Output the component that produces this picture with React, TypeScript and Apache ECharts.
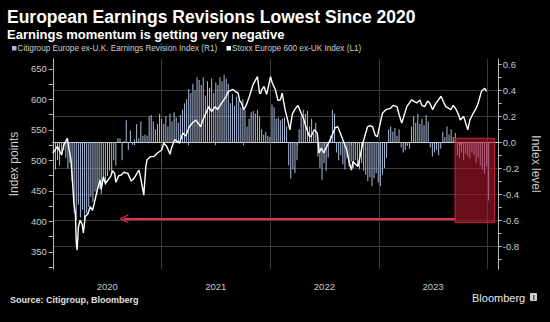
import React, { useEffect, useRef } from "react";
import * as echarts from "echarts";

// ---------- data ----------
const titleText = "European Earnings Revisions Lowest Since 2020";
const subtitleText = "Earnings momentum is getting very negative";
const revisionName = "Citigroup Europe ex-U.K. Earnings Revision Index (R1)";
const stoxxName = "Stoxx Europe 600 ex-UK Index (L1)";
const sourceText = "Source: Citigroup, Bloomberg";

const yearLabels = ["2020", "2021", "2022", "2023"];
const leftTickLabels = [350, 400, 450, 500, 550, 600, 650];
const leftMinorTicks = [325, 350, 375, 400, 425, 450, 475, 500, 525, 550, 575, 600, 625, 650];
const rightTickLabels = [-0.8, -0.6, -0.4, -0.2, 0, 0.2, 0.4, 0.6];
const rightMinorTicks = [-0.9, -0.8, -0.7, -0.6, -0.5, -0.4, -0.3, -0.2, -0.1, 0, 0.1, 0.2, 0.3, 0.4, 0.5, 0.6];
const rightGridValues = [-0.8, -0.6, -0.4, -0.2, 0, 0.2, 0.4];

// Stoxx Europe 600 ex-UK (left axis)
const stoxxDates = [
  "2020-01-01","2020-01-10","2020-01-17","2020-01-24","2020-01-31","2020-02-07","2020-02-19","2020-02-24",
  "2020-03-02","2020-03-07","2020-03-12","2020-03-17","2020-03-20","2020-03-23","2020-03-27","2020-04-02",
  "2020-04-09","2020-04-13","2020-04-19","2020-04-28","2020-05-06","2020-05-14","2020-05-22","2020-05-29",
  "2020-06-08","2020-06-12","2020-06-19","2020-06-26","2020-07-05","2020-07-14","2020-07-20","2020-07-27",
  "2020-07-31","2020-08-10","2020-08-18","2020-08-28","2020-09-02","2020-09-09","2020-09-21","2020-10-01",
  "2020-10-09","2020-10-17","2020-10-23","2020-11-02","2020-11-09","2020-11-13","2020-11-24","2020-12-05",
  "2020-12-18","2021-01-01","2021-01-08","2021-01-18","2021-01-29","2021-02-03","2021-02-14","2021-03-02",
  "2021-03-13","2021-03-23","2021-04-04","2021-04-16","2021-04-26","2021-05-12","2021-05-18","2021-06-08",
  "2021-06-18","2021-06-30","2021-07-08","2021-07-22","2021-08-05","2021-08-13","2021-08-29","2021-09-08",
  "2021-09-15","2021-09-20","2021-09-26","2021-10-04","2021-10-12","2021-10-23","2021-11-05","2021-11-19",
  "2021-11-26","2021-11-30","2021-12-03","2021-12-11","2021-12-20","2022-01-02","2022-01-07","2022-01-18",
  "2022-01-27","2022-02-04","2022-02-10","2022-02-20","2022-03-01","2022-03-08","2022-03-16","2022-03-24",
  "2022-04-04","2022-04-15","2022-04-22","2022-05-01","2022-05-12","2022-05-18","2022-05-29","2022-06-08",
  "2022-06-14","2022-06-22","2022-06-30","2022-07-07","2022-07-22","2022-08-07","2022-08-16","2022-08-24",
  "2022-09-05","2022-09-15","2022-09-22","2022-10-01","2022-10-06","2022-10-12","2022-10-23","2022-11-08",
  "2022-11-24","2022-12-02","2022-12-11","2022-12-20","2022-12-27","2023-01-13","2023-01-25","2023-02-09",
  "2023-02-18","2023-03-03","2023-03-10","2023-03-19","2023-04-05","2023-04-21","2023-05-08","2023-05-19",
  "2023-05-26","2023-06-04","2023-06-14","2023-06-21","2023-07-01","2023-07-10","2023-07-29","2023-08-07",
  "2023-08-14","2023-08-31","2023-09-08","2023-09-16","2023-09-25","2023-10-02","2023-10-13","2023-10-27",
  "2023-11-03","2023-11-14","2023-11-24","2023-12-01","2023-12-12","2023-12-23","2023-12-29"
];
const stoxxValues = [
  512, 518, 523, 515, 509, 525, 536, 520,
  501, 468, 430, 414, 365, 353, 390, 402,
  395, 381, 408, 412, 424, 418, 435, 450,
  468, 452, 473, 462, 468, 474, 483, 479,
  464, 475, 476, 481, 479, 479, 466, 471,
  478, 484, 470, 443, 490, 501, 506, 506,
  512, 517, 528, 523, 510, 520, 534, 528,
  545, 540, 555, 562, 566, 555, 564, 588,
  580, 588, 583, 594, 604, 613, 616, 612,
  610, 598, 594, 583, 590, 605, 625, 637,
  610, 610, 615, 621, 608, 637, 628, 616,
  598, 599, 610, 583, 565, 550, 575, 583,
  590, 577, 570, 555, 540, 539, 550, 545,
  512, 520, 512, 520, 534, 553, 555, 545,
  530, 517, 500, 484, 498, 495, 490, 528,
  555, 557, 555, 541, 539, 577, 583, 585,
  590, 588, 575, 561, 588, 599, 594, 599,
  590, 588, 597, 594, 583, 592, 605, 595,
  588, 583, 590, 585, 576, 566, 572, 550,
  566, 577, 585, 594, 613, 618, 613
];

// Citigroup Europe ex-UK earnings revision index (right axis), weekly from 2020-01-03
const revisionStart = "2020-01-03";
const revisions2020 = [
  -0.08, -0.21, -0.14, -0.18, -0.10, -0.06, -0.12, -0.20, -0.16, -0.30, -0.55, -0.60, -0.48,
  -0.58, -0.52, -0.60, -0.55, -0.50, -0.42, -0.46, -0.38, -0.40, -0.36, -0.40, -0.30, -0.33,
  -0.26, -0.22, -0.24, -0.14, -0.18, 0.03, 0.03, -0.14, 0.01, 0.17, -0.06, 0.09, -0.02,
  0.02, 0.14, 0.03, 0.16, 0.05, 0.06, 0.05, 0.20, 0.21, 0.16, 0.10, 0.14, 0.22
];
const revisions2021 = [
  0.18, 0.14, 0.20, 0.12, 0.22, 0.16, 0.23, 0.19, 0.15, 0.21, 0.25, 0.30, 0.33,
  0.41, 0.38, 0.45, 0.40, 0.50, 0.48, 0.44, 0.50, 0.36, 0.47, 0.42, 0.49, 0.38,
  0.46, 0.44, 0.50, 0.47, 0.52, 0.49, 0.45, 0.30, 0.37, 0.28, 0.35, 0.32, 0.27,
  0.33, 0.25, 0.12, 0.18, 0.23, 0.24, 0.22, 0.25, 0.20, 0.10, 0.06, 0.08, 0.05, 0.04
];
const revisions2022 = [
  0.29, 0.27, 0.18, 0.19, 0.17, 0.18, 0.19, 0.12,
  -0.18, -0.28, -0.21, -0.24, -0.14,
  0.10, 0.20, 0.25, 0.22, 0.24, 0.12, 0.18, 0.07, 0.15,
  -0.11, -0.20, -0.29, -0.16, -0.22, -0.12, 0.05, 0.25,
  0.22, -0.08, -0.14, -0.10, -0.17, -0.21, -0.12, -0.19, -0.15,
  -0.20, -0.14, -0.18, -0.21, -0.16, -0.22, -0.25, -0.30,
  -0.27, -0.34, -0.28, -0.24, -0.31
];
const revisions2023 = [
  -0.34, -0.25, -0.20, -0.12,
  0.10, 0.12, 0.08, 0.11, 0.05, 0.10,
  -0.04, -0.08, -0.06, -0.03, -0.05,
  0.12, 0.20, 0.15, 0.22, 0.14, 0.18, 0.13, 0.21, 0.16,
  -0.04, -0.11, -0.08, -0.06, -0.10, -0.05,
  0.08, 0.04, 0.12, 0.06, 0.10, 0.04, 0.07,
  -0.10, -0.12, -0.08, -0.14, -0.09, -0.11, -0.13, -0.08, -0.10, -0.16, -0.12, -0.18, -0.21, -0.24, -0.19
];
const revisions2024 = [-0.45];

// highlight box and arrow
const boxStart = "2023-09-14";
const boxEnd = "2024-01-25";
const boxTop = 0.03;
const boxBottom = -0.62;
const arrowFrom = "2023-09-14";
const arrowTo = "2020-08-27";
const arrowLevel = -0.59;

const axisStart = "2020-01-01";
const axisEnd = "2024-02-08";
const yearStarts = ["2021-01-01", "2022-01-01", "2023-01-01", "2024-01-01"];
const quarterStarts = [
  "2020-04-01","2020-07-01","2020-10-01","2021-04-01","2021-07-01","2021-10-01",
  "2022-04-01","2022-07-01","2022-10-01","2023-04-01","2023-07-01","2023-10-01"
];
const yearMiddles = ["2020-07-02", "2021-07-02", "2022-07-02", "2023-07-02"];

const ts = (s: string) => new Date(s + "T00:00:00").getTime();

export default function App() {
  const ref = useRef<HTMLDivElement>(null);
  useEffect(() => {
    document.body.style.background = "#000";
    const chart = echarts.init(ref.current!, null, { renderer: "svg" });
    const revisions = [...revisions2020, ...revisions2021, ...revisions2022, ...revisions2023, ...revisions2024];
    const start = ts(revisionStart);
    const barData = revisions.map((v, i) => [start + i * 7 * 86400000, v]);
    const lineData = stoxxDates.map((d, i) => [ts(d), stoxxValues[i]]);
    const font = "Liberation Sans";
    const labelColor = "#c9c9c9";
    const gridColor = "#3a3a3a";
    const yearOf = (v: number) => {
      const y = new Date(v).getFullYear();
      return yearLabels[y - 2020] ?? String(y);
    };

    chart.setOption({
      animation: false,
      backgroundColor: "#000",
      textStyle: { fontFamily: font },
      title: [
        {
          left: 7,
          top: 8,
          padding: 0,
          text: titleText,
          textStyle: { color: "#fff", fontSize: 17.5, fontWeight: "bold", fontFamily: font, lineHeight: 18 },
        },
        {
          left: 7,
          top: 28,
          padding: 0,
          text: subtitleText,
          textStyle: { color: "#fff", fontSize: 13, fontWeight: "bold", fontFamily: font, lineHeight: 13 },
        },
      ],
      grid: { left: 43, right: 49, top: 59, bottom: 53 },
      xAxis: [
        {
          type: "value",
          position: "bottom",
          min: ts(axisStart),
          max: ts(axisEnd),
          axisLine: { show: true, lineStyle: { color: "#cfcfcf", width: 1 } },
          axisTick: { show: true, customValues: quarterStarts.map(ts), length: 3, lineStyle: { color: "#aaa" } },
          axisLabel: { show: false },
          splitLine: { show: false },
        },
        {
          type: "value",
          position: "bottom",
          min: ts(axisStart),
          max: ts(axisEnd),
          axisLine: { show: false },
          axisTick: { show: true, customValues: yearStarts.map(ts), length: 22, lineStyle: { color: "#555" } },
          axisLabel: {
            show: true,
            customValues: yearMiddles.map(ts),
            formatter: (v: number) => yearOf(v),
            color: labelColor,
            fontSize: 9.5,
            margin: 12,
            fontFamily: font,
          },
          splitLine: { show: true, lineStyle: { color: gridColor, width: 1 } },
        },
      ],
      yAxis: [
        {
          type: "value",
          position: "left",
          min: 322,
          max: 666,
          name: "Index points",
          nameLocation: "middle",
          nameGap: 25,
          nameTextStyle: { color: labelColor, fontSize: 12, fontFamily: font },
          axisLine: { show: true, lineStyle: { color: "#bbb" } },
          axisTick: { show: true, customValues: leftMinorTicks, length: 4, lineStyle: { color: "#bbb" } },
          axisLabel: { customValues: leftTickLabels, color: labelColor, fontSize: 9.5, margin: 6, fontFamily: font },
          splitLine: { show: false },
        },
        {
          type: "value",
          position: "right",
          min: -0.977,
          max: 0.641,
          name: "Index level",
          nameLocation: "middle",
          nameGap: 22,
          nameRotate: -90,
          nameTextStyle: { color: labelColor, fontSize: 12, fontFamily: font },
          axisLine: { show: true, lineStyle: { color: "#bbb" } },
          axisTick: { show: true, customValues: rightMinorTicks, length: 3, lineStyle: { color: "#bbb" } },
          axisLabel: {
            customValues: rightTickLabels,
            formatter: (v: number) => v.toFixed(1),
            color: labelColor,
            fontSize: 9.5,
            margin: 4,
            fontFamily: font,
          },
          splitLine: { show: false },
        },
        {
          type: "value",
          position: "right",
          min: -0.977,
          max: 0.641,
          axisLine: { show: false },
          axisTick: { show: false, customValues: rightGridValues },
          axisLabel: { show: false },
          splitLine: { show: true, lineStyle: { color: gridColor, width: 1 } },
        },
      ],
      series: [
        {
          name: revisionName,
          type: "bar",
          xAxisIndex: 0,
          yAxisIndex: 1,
          data: barData,
          barWidth: 1,
          itemStyle: { color: "#a9b9da" },
          z: 1,
          markArea: {
            silent: true,
            z: 2,
            itemStyle: { color: "rgba(190,25,50,0.55)", borderColor: "#c8283c", borderWidth: 1 },
            data: [[{ coord: [ts(boxStart), boxTop] }, { coord: [ts(boxEnd), boxBottom] }]],
          },
          markLine: {
            silent: true,
            z: 2,
            symbol: ["none", "path://M0,10 L5,0 L10,10 L8.6,10 L5,2.8 L1.4,10 Z"],
            symbolSize: [9, 9],
            label: { show: false },
            lineStyle: { color: "#e8304a", width: 2, type: "solid" },
            data: [[{ coord: [ts(arrowFrom), arrowLevel] }, { coord: [ts(arrowTo), arrowLevel] }]],
          },
        },
        {
          name: stoxxName,
          type: "line",
          xAxisIndex: 0,
          yAxisIndex: 0,
          data: lineData,
          showSymbol: false,
          lineStyle: { color: "#fff", width: 1.4 },
          itemStyle: { color: "#fff" },
          z: 3,
        },
      ],
      graphic: [
        { type: "rect", left: 12, top: 46, shape: { width: 4.5, height: 4.5 }, style: { fill: "#a9b9da" } },
        { type: "text", left: 17.5, top: 44, style: { text: revisionName, fill: "#cfcfcf", font: `8.2px "${font}"` } },
        { type: "rect", left: 226.5, top: 46, shape: { width: 4.5, height: 4.5 }, style: { fill: "#fff" } },
        { type: "text", left: 232, top: 44, style: { text: stoxxName, fill: "#cfcfcf", font: `8.2px "${font}"` } },
        { type: "text", left: 10, top: 295, style: { text: sourceText, fill: "#e0e0e0", font: `bold 9px "${font}"` } },
        { type: "text", left: 472, top: 292, style: { text: "Bloomberg", fill: "#e8e8e8", font: `11px "${font}"` } },
        { type: "rect", left: 530, top: 293, shape: { width: 7, height: 8, r: 1 }, style: { fill: "#d0d0d0" } },
        { type: "rect", left: 533, top: 295, shape: { width: 1.5, height: 5 }, style: { fill: "#555" } },
      ],
    });
    return () => chart.dispose();
  }, []);
  return (
    <div
      ref={ref}
      style={{ position: "fixed", left: 0, top: 0, width: 550, height: 322, background: "#000" }}
    />
  );
}
